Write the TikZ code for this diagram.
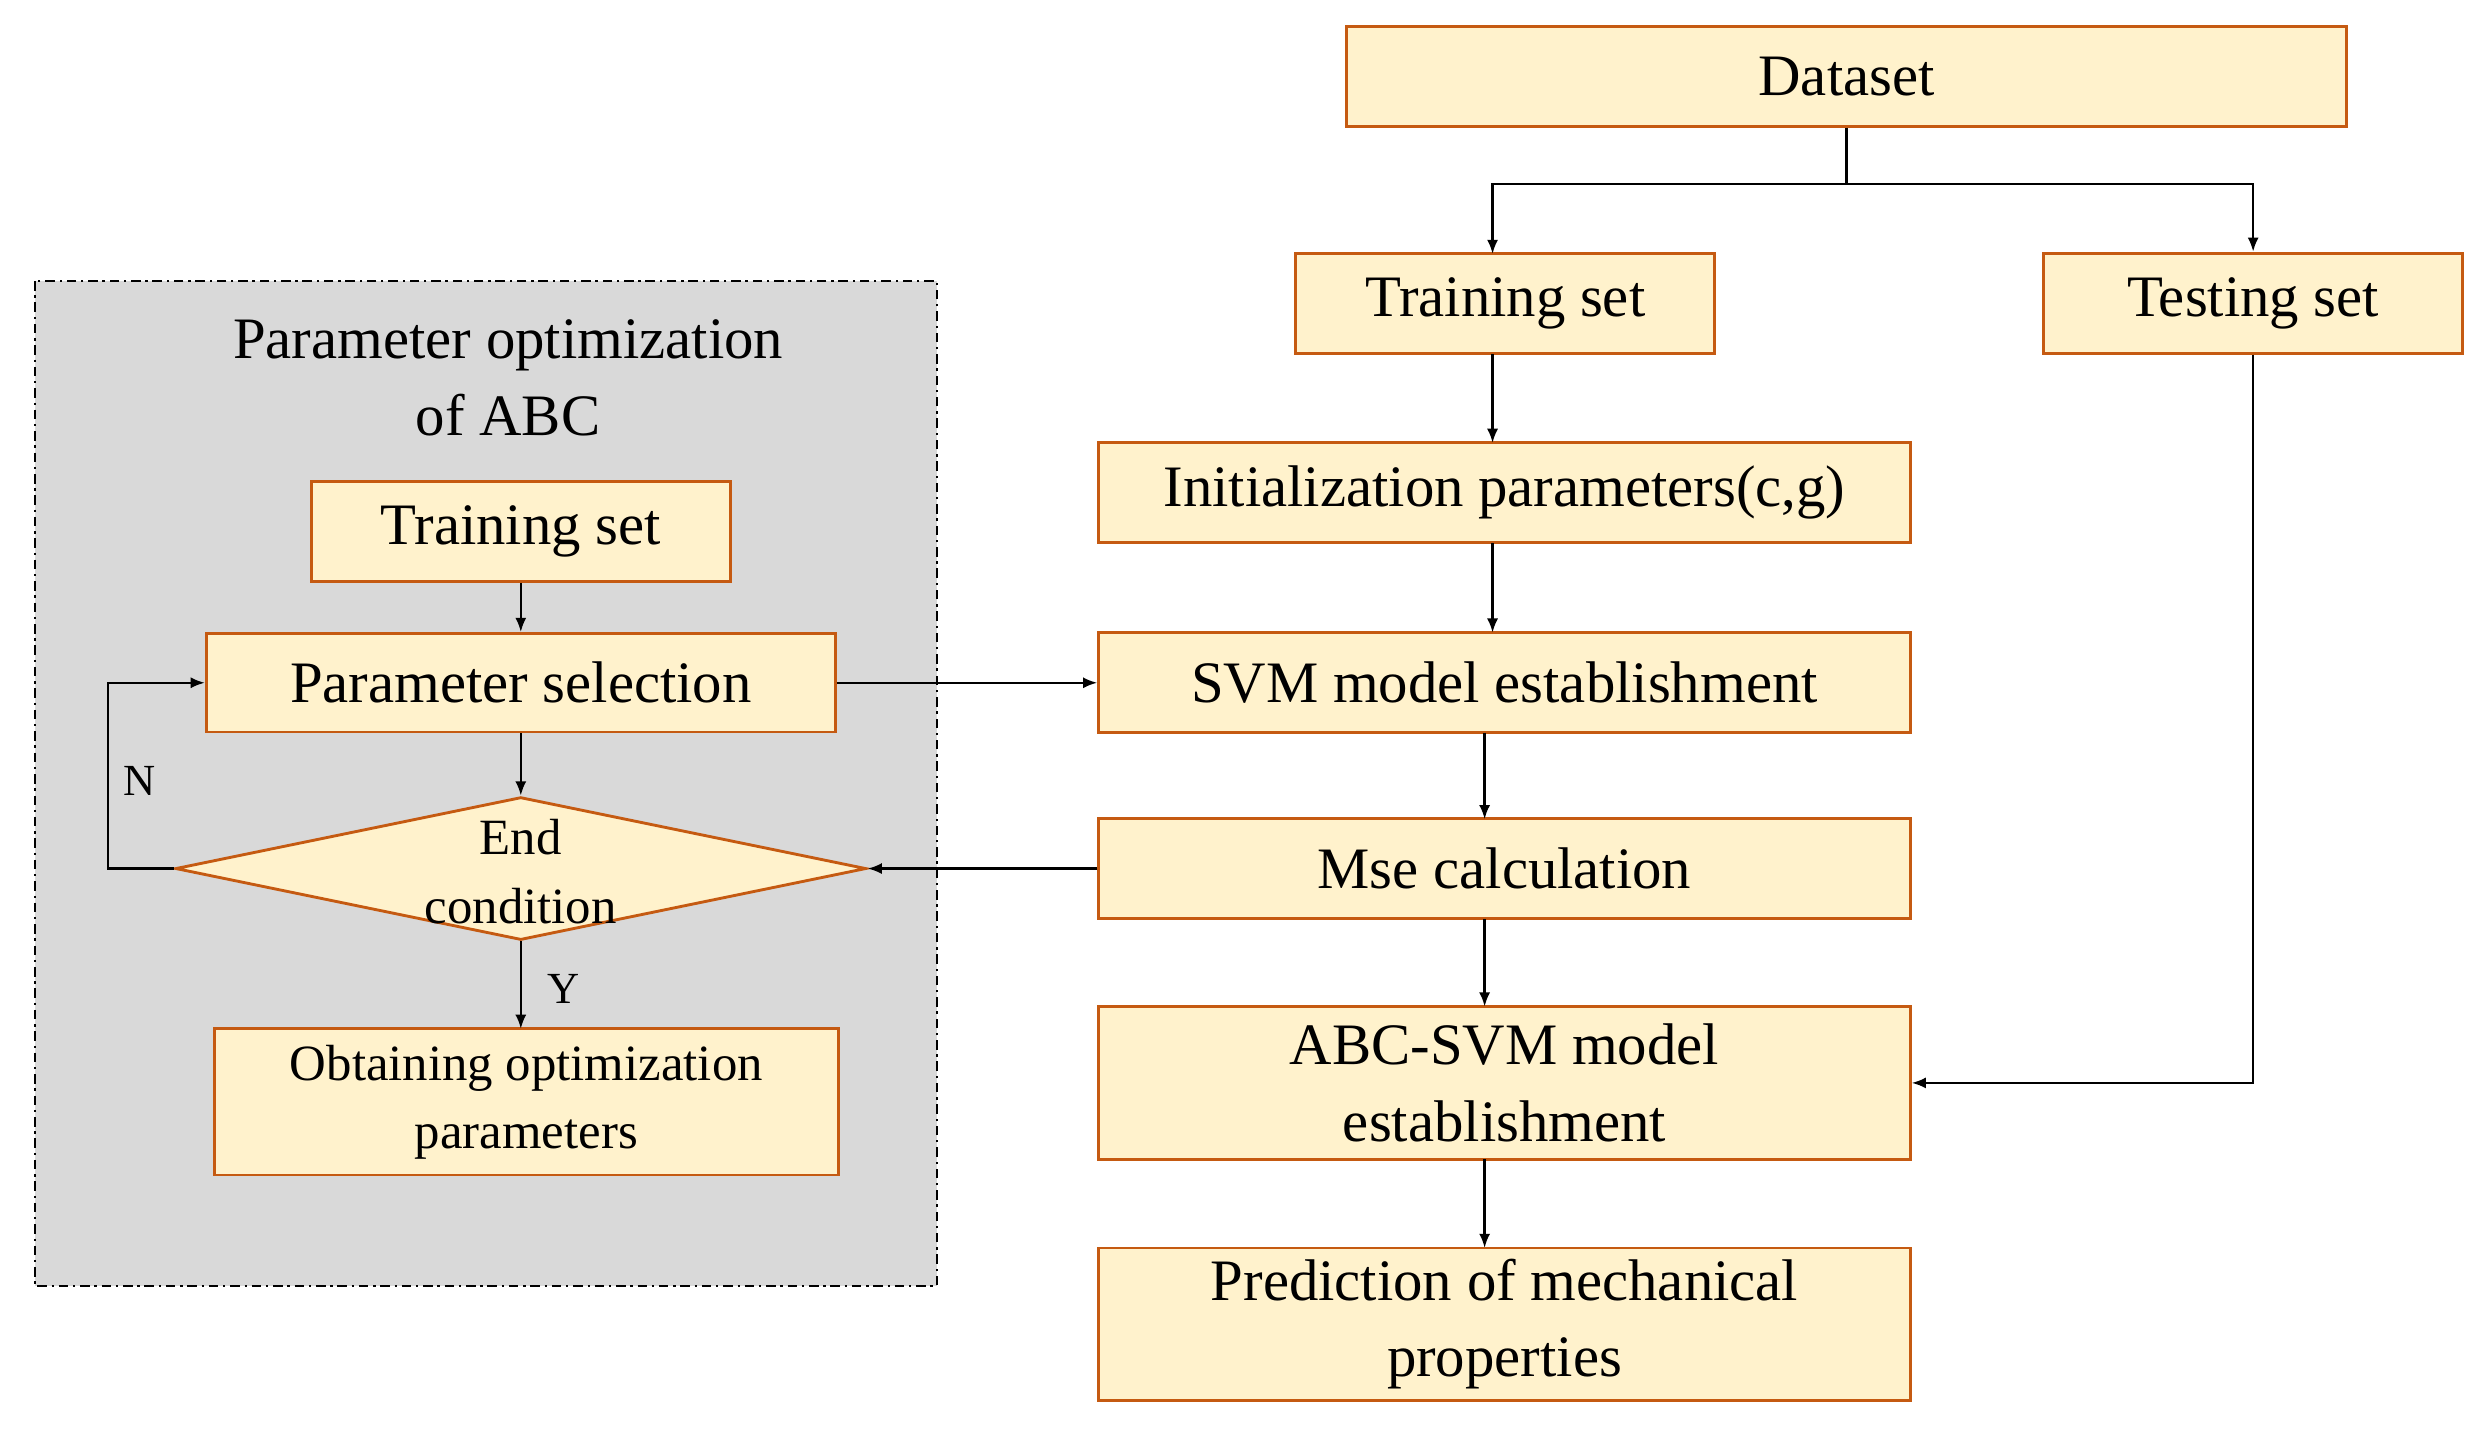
\documentclass[tikz,border=0pt]{standalone}
\usepackage{fontspec}
\setmainfont{Liberation Serif}
\usetikzlibrary{shapes.geometric,arrows.meta}
\definecolor{bfill}{HTML}{FFF2CC}
\definecolor{bdraw}{HTML}{C55A11}
\definecolor{gfill}{HTML}{D9D9D9}
\begin{document}
\begin{tikzpicture}[x=1pt,y=-1pt,
 box/.style={draw=bdraw,fill=bfill,line width=1.8pt,inner sep=0pt,align=center,font=\fontsize{37}{48}\selectfont},
 arr/.style={-{Latex[length=9pt,width=7pt]},line width=1.6pt},
 lab/.style={font=\fontsize{28}{34}\selectfont}]
\useasboundingbox (0,0) rectangle (1560,900.5);
\draw[fill=gfill,line width=1.5pt,dash pattern=on 6pt off 3pt on 1.5pt off 3pt] (22,177) rectangle (590,810);
\node[align=center,font=\fontsize{37}{48}\selectfont] (title) at (320,238) {Parameter optimization\\of ABC};
\node[box,minimum width=630,minimum height=63] (ds) at (1163,48) {Dataset};
\node[box,minimum width=264,minimum height=63] (tr) at (948,191) {Training set};
\node[box,minimum width=264,minimum height=63] (te) at (1419,191) {Testing set};
\node[box,minimum width=511,minimum height=63] (init) at (947.5,310) {Initialization parameters(c,g)};
\node[box,minimum width=511,minimum height=63] (svm) at (947.5,430) {SVM model establishment};
\node[box,minimum width=511,minimum height=63] (mse) at (947.5,547) {Mse calculation};
\node[box,minimum width=511,minimum height=96] (abc) at (947.5,682) {ABC-SVM model\\establishment};
\node[box,minimum width=511,minimum height=96] (pred) at (947.5,834) {Prediction of mechanical\\properties};
\node[box,minimum width=264,minimum height=63] (ltr) at (328,334.5) {Training set};
\node[box,minimum width=396,minimum height=62] (ps) at (328,430) {Parameter selection};
\node[draw=bdraw,fill=bfill,line width=1.8pt,diamond,aspect=4.83,minimum width=435,minimum height=90,inner sep=0pt] (dm) at (328,547) {};
\node[align=center,font=\fontsize{32}{43}\selectfont] at (328,549) {End\\condition};
\node[box,minimum width=393,minimum height=92,font=\fontsize{32}{43}\selectfont] (ob) at (331.5,694) {Obtaining optimization\\parameters};
\coordinate (j) at (1163,116);
\draw[line width=1.6pt] (ds.south) -- (j);
\draw[arr] (j) -| (940,160);
\draw[arr] (j) -| (te.north);
\draw[arr] (940,223) -- (940,279);
\draw[arr] (940,342) -- (940,398.5);
\draw[arr] (935,461.5) -- (935,516);
\draw[arr] (935,579) -- (935,634);
\draw[arr] (935,730) -- (935,786);
\draw[arr] (te.south) |- (abc.east);
\draw[arr] (ps.east) -- (svm.west);
\draw[arr] (mse.west) -- (dm.east);
\draw[arr] (ltr.south) -- (ps.north);
\draw[arr] (ps.south) -- (dm.north);
\draw[arr] (dm.south) -- (328,648);
\draw[arr] (dm.west) -- (68,547) -- (68,430) -- (ps.west);
\node[lab] at (88,492) {N};
\node[lab] at (355,623) {Y};
\end{tikzpicture}
\end{document}
